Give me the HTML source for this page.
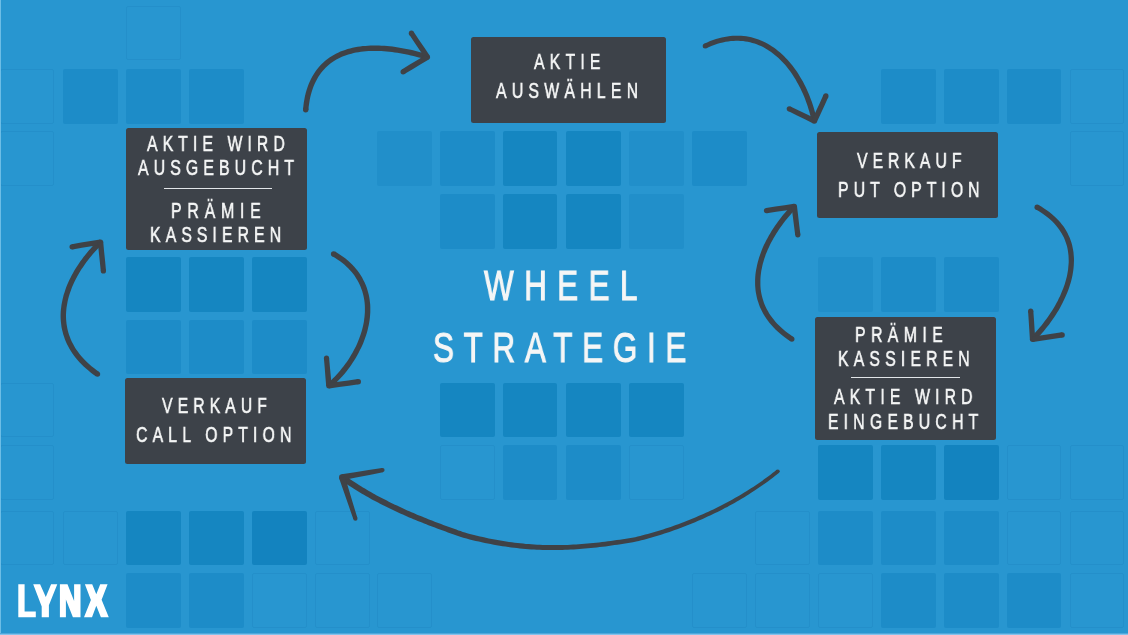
<!DOCTYPE html>
<html><head><meta charset="utf-8"><style>
html,body{margin:0;padding:0;}
body{width:1128px;height:635px;overflow:hidden;position:relative;background:#2896d0;font-family:"Liberation Sans",sans-serif;}
.sq{position:absolute;width:54.8px;height:54.6px;border-radius:2px;box-sizing:border-box;}
.sq.o{border:1px solid rgba(20,110,170,0.17);}
.box{position:absolute;background:#3d4249;border-radius:2.5px;}
.t{position:absolute;white-space:nowrap;color:#f5f6f6;line-height:1;transform-origin:0 0;-webkit-text-stroke:0.6px #f5f6f6;will-change:transform;}
.s{font-size:22px;transform:scaleX(0.72);}
.b{font-size:42px;transform:scaleX(0.75);-webkit-text-stroke:1.1px #f5f6f6;}
.dv{position:absolute;height:1.4px;background:#e2e5e8;}
.edge-l{position:absolute;left:0;top:0;width:1px;height:635px;background:#6cbde6;}
.edge-b{position:absolute;left:0;top:633px;width:1128px;height:2px;background:linear-gradient(#4ea8db 0 50%,#84c2ec 50%);}
svg{position:absolute;left:0;top:0;}
</style></head><body>
<div class="sq o" style="left:126.1px;top:5.6px"></div><div class="sq o" style="left:-0.5px;top:69.0px"></div><div class="sq" style="left:62.8px;top:69.0px;background:#1d8cc8"></div><div class="sq" style="left:126.1px;top:69.0px;background:#1d8cc8"></div><div class="sq" style="left:189.1px;top:69.0px;background:#1d8cc8"></div><div class="sq" style="left:880.8px;top:69.0px;background:#1d8cc8"></div><div class="sq" style="left:944.1px;top:69.0px;background:#1d8cc8"></div><div class="sq" style="left:1006.5px;top:69.0px;background:#1d8cc8"></div><div class="sq o" style="left:1069.5px;top:69.0px"></div><div class="sq o" style="left:-0.5px;top:131.2px"></div><div class="sq" style="left:377.4px;top:131.2px;background:#218fca"></div><div class="sq" style="left:440.2px;top:131.2px;background:#1d8cc8"></div><div class="sq" style="left:502.6px;top:131.2px;background:#1586c1"></div><div class="sq" style="left:566.2px;top:131.2px;background:#1586c1"></div><div class="sq" style="left:629.2px;top:131.2px;background:#218fca"></div><div class="sq" style="left:692.0px;top:131.2px;background:#1d8cc8"></div><div class="sq o" style="left:1069.5px;top:131.2px"></div><div class="sq" style="left:440.2px;top:194.0px;background:#1d8cc8"></div><div class="sq" style="left:502.6px;top:194.0px;background:#1586c1"></div><div class="sq" style="left:566.2px;top:194.0px;background:#1586c1"></div><div class="sq" style="left:629.2px;top:194.0px;background:#218fca"></div><div class="sq" style="left:126.1px;top:257.2px;background:#1586c1"></div><div class="sq" style="left:189.1px;top:257.2px;background:#1586c1"></div><div class="sq" style="left:251.8px;top:257.2px;background:#1586c1"></div><div class="sq" style="left:817.8px;top:257.2px;background:#218fca"></div><div class="sq" style="left:880.8px;top:257.2px;background:#1d8cc8"></div><div class="sq" style="left:944.1px;top:257.2px;background:#1d8cc8"></div><div class="sq" style="left:126.1px;top:319.8px;background:#1d8cc8"></div><div class="sq" style="left:189.1px;top:319.8px;background:#1d8cc8"></div><div class="sq" style="left:251.8px;top:319.8px;background:#1d8cc8"></div><div class="sq o" style="left:-0.5px;top:382.6px"></div><div class="sq" style="left:440.2px;top:382.6px;background:#1586c1"></div><div class="sq" style="left:502.6px;top:382.6px;background:#1586c1"></div><div class="sq" style="left:566.2px;top:382.6px;background:#1586c1"></div><div class="sq" style="left:629.2px;top:382.6px;background:#1586c1"></div><div class="sq o" style="left:-0.5px;top:445.2px"></div><div class="sq o" style="left:440.2px;top:445.2px"></div><div class="sq" style="left:502.6px;top:445.2px;background:#1d8cc8"></div><div class="sq" style="left:566.2px;top:445.2px;background:#1d8cc8"></div><div class="sq o" style="left:629.2px;top:445.2px"></div><div class="sq" style="left:817.8px;top:445.2px;background:#1586c1"></div><div class="sq" style="left:880.8px;top:445.2px;background:#1586c1"></div><div class="sq" style="left:944.1px;top:445.2px;background:#1383bf"></div><div class="sq o" style="left:1006.5px;top:445.2px"></div><div class="sq o" style="left:1069.5px;top:445.2px"></div><div class="sq o" style="left:-0.5px;top:510.9px"></div><div class="sq o" style="left:62.8px;top:510.9px"></div><div class="sq" style="left:126.1px;top:510.9px;background:#1586c1"></div><div class="sq" style="left:189.1px;top:510.9px;background:#1586c1"></div><div class="sq" style="left:251.8px;top:510.9px;background:#1383bf"></div><div class="sq o" style="left:314.8px;top:510.9px"></div><div class="sq o" style="left:755.0px;top:510.9px"></div><div class="sq" style="left:817.8px;top:510.9px;background:#1d8cc8"></div><div class="sq" style="left:880.8px;top:510.9px;background:#1d8cc8"></div><div class="sq" style="left:944.1px;top:510.9px;background:#1d8cc8"></div><div class="sq o" style="left:1006.5px;top:510.9px"></div><div class="sq o" style="left:1069.5px;top:510.9px"></div><div class="sq" style="left:126.1px;top:573.2px;background:#1d8cc8"></div><div class="sq" style="left:189.1px;top:573.2px;background:#1d8cc8"></div><div class="sq o" style="left:251.8px;top:573.2px"></div><div class="sq o" style="left:314.8px;top:573.2px"></div><div class="sq o" style="left:377.4px;top:573.2px"></div><div class="sq o" style="left:692.0px;top:573.2px"></div><div class="sq o" style="left:755.0px;top:573.2px"></div><div class="sq o" style="left:817.8px;top:573.2px"></div><div class="sq" style="left:880.8px;top:573.2px;background:#1d8cc8"></div><div class="sq" style="left:944.1px;top:573.2px;background:#1d8cc8"></div><div class="sq" style="left:1006.5px;top:573.2px;background:#1d8cc8"></div><div class="sq o" style="left:1069.5px;top:573.2px"></div>
<div class="edge-l"></div><div class="edge-b"></div>
<div class="box" style="left:470.7px;top:36.8px;width:195.5px;height:86.2px"></div><div class="box" style="left:817.3px;top:132.3px;width:180.6px;height:86px"></div><div class="box" style="left:125.1px;top:378.3px;width:180.9px;height:86.2px"></div><div class="box" style="left:126.3px;top:127.5px;width:180.9px;height:122.6px"></div><div class="box" style="left:815.1px;top:317.1px;width:181.2px;height:122.5px"></div>
<div class="dv" style="left:163.5px;top:187.8px;width:108.5px"></div><div class="dv" style="left:851.4px;top:376.9px;width:108.8px"></div>
<div class="t s" style="left:533.70px;top:51.30px;letter-spacing:7.172px">AKTIE</div><div class="t s" style="left:496.00px;top:80.40px;letter-spacing:7.241px">AUSWÄHLEN</div><div class="t s" style="left:856.70px;top:149.70px;letter-spacing:6.864px">VERKAUF</div><div class="t s" style="left:838.00px;top:179.00px;letter-spacing:6.953px">PUT OPTION</div><div class="t s" style="left:161.50px;top:394.60px;letter-spacing:6.977px">VERKAUF</div><div class="t s" style="left:136.20px;top:424.20px;letter-spacing:7.125px">CALL OPTION</div><div class="t s" style="left:146.50px;top:132.90px;letter-spacing:7.000px">AKTIE WIRD</div><div class="t s" style="left:137.80px;top:157.40px;letter-spacing:7.108px">AUSGEBUCHT</div><div class="t s" style="left:171.00px;top:199.60px;letter-spacing:8.056px">PRÄMIE</div><div class="t s" style="left:150.00px;top:223.80px;letter-spacing:7.018px">KASSIEREN</div><div class="t s" style="left:854.60px;top:323.80px;letter-spacing:7.528px">PRÄMIE</div><div class="t s" style="left:837.60px;top:348.20px;letter-spacing:7.123px">KASSIEREN</div><div class="t s" style="left:833.70px;top:386.00px;letter-spacing:7.123px">AKTIE WIRD</div><div class="t s" style="left:828.40px;top:410.50px;letter-spacing:7.156px">EINGEBUCHT</div><div class="t b" style="left:483.50px;top:265.00px;letter-spacing:13.800px">WHEEL</div><div class="t b" style="left:432.50px;top:327.40px;letter-spacing:12.850px">STRATEGIE</div>
<svg width="1128" height="635" viewBox="0 0 1128 635" fill="#3f4247" stroke="none"><polygon points="308.4,110.0 308.7,106.5 309.2,103.3 309.7,100.1 310.3,97.1 311.0,94.2 311.8,91.4 312.7,88.8 313.6,86.2 314.7,83.7 315.8,81.4 317.0,79.2 318.2,77.0 319.6,75.0 321.0,73.0 322.4,71.2 324.0,69.4 325.6,67.8 327.2,66.2 328.9,64.7 330.7,63.3 332.5,62.0 334.4,60.8 336.4,59.6 338.4,58.5 340.4,57.6 342.5,56.6 344.7,55.8 346.8,55.0 349.1,54.3 351.4,53.7 353.7,53.1 356.0,52.6 358.4,52.2 360.9,51.8 363.3,51.5 365.8,51.3 368.4,51.1 370.9,51.0 373.5,50.9 376.1,50.9 378.7,51.0 381.3,51.1 384.0,51.2 386.6,51.4 389.3,51.7 392.0,52.0 394.7,52.4 397.4,52.8 400.1,53.2 402.7,53.7 405.4,54.2 408.1,54.8 410.8,55.4 413.5,56.0 416.1,56.7 418.8,57.4 421.4,58.1 424.0,58.9 426.6,59.7 428.2,54.5 425.6,53.7 422.9,52.9 420.2,52.2 417.5,51.5 414.8,50.8 412.0,50.1 409.3,49.5 406.5,48.9 403.7,48.4 401.0,47.9 398.2,47.4 395.4,47.0 392.6,46.6 389.9,46.3 387.1,46.1 384.4,45.8 381.6,45.7 378.9,45.6 376.1,45.5 373.4,45.5 370.7,45.6 368.0,45.7 365.4,45.9 362.8,46.1 360.1,46.5 357.6,46.8 355.0,47.3 352.5,47.8 350.0,48.4 347.5,49.1 345.1,49.9 342.8,50.7 340.4,51.6 338.1,52.7 335.9,53.7 333.7,54.9 331.6,56.2 329.5,57.6 327.5,59.0 325.5,60.6 323.6,62.2 321.7,64.0 320.0,65.8 318.3,67.7 316.7,69.8 315.1,71.9 313.7,74.2 312.3,76.5 311.0,79.0 309.8,81.5 308.6,84.2 307.6,87.0 306.6,89.9 305.8,92.8 305.0,95.9 304.4,99.2 303.8,102.5 303.4,105.9 303.0,109.4"/><circle cx="305.7" cy="109.7" r="2.70"/><circle cx="427.4" cy="57.1" r="2.70"/><polygon points="429.6,55.6 424.3,47.6 418.9,39.7 413.6,31.8 409.2,34.6 414.5,42.6 419.9,50.6 425.2,58.6"/><circle cx="411.4" cy="33.2" r="2.60"/><polygon points="426.0,54.8 417.9,59.7 409.8,64.6 401.8,69.6 404.4,74.0 412.6,69.2 420.7,64.3 428.8,59.4"/><circle cx="403.1" cy="71.8" r="2.60"/><polygon points="706.2,48.3 709.1,47.0 712.0,45.8 714.8,44.8 717.5,43.8 720.2,43.1 722.9,42.4 725.6,41.8 728.2,41.4 730.8,41.1 733.3,40.9 735.8,40.8 738.3,40.8 740.7,40.9 743.1,41.1 745.5,41.4 747.8,41.8 750.1,42.3 752.3,42.9 754.6,43.6 756.7,44.3 758.9,45.2 761.0,46.1 763.1,47.1 765.1,48.2 767.2,49.4 769.1,50.7 771.1,52.0 773.0,53.4 774.8,54.9 776.7,56.4 778.5,58.1 780.2,59.7 781.9,61.5 783.6,63.3 785.3,65.1 786.9,67.1 788.4,69.0 790.0,71.0 791.4,73.1 792.9,75.2 794.3,77.4 795.6,79.6 796.9,81.9 798.2,84.2 799.4,86.5 800.6,88.8 801.7,91.2 802.8,93.6 803.9,96.1 804.9,98.6 805.8,101.1 806.7,103.6 807.6,106.1 808.4,108.7 809.2,111.2 809.9,113.8 810.6,116.4 811.2,119.0 811.8,121.6 817.0,120.4 816.4,117.7 815.8,115.1 815.1,112.4 814.3,109.7 813.5,107.1 812.7,104.4 811.8,101.8 810.8,99.2 809.8,96.6 808.8,94.0 807.7,91.5 806.6,89.0 805.4,86.5 804.1,84.1 802.9,81.6 801.5,79.2 800.1,76.9 798.7,74.6 797.3,72.3 795.7,70.1 794.2,67.9 792.6,65.8 790.9,63.7 789.2,61.7 787.5,59.8 785.7,57.9 783.9,56.0 782.0,54.2 780.1,52.5 778.1,50.9 776.1,49.3 774.1,47.8 772.0,46.4 769.8,45.0 767.7,43.7 765.4,42.6 763.2,41.4 760.9,40.4 758.5,39.5 756.1,38.7 753.7,37.9 751.3,37.3 748.8,36.8 746.2,36.3 743.6,36.0 741.0,35.8 738.4,35.7 735.7,35.7 733.0,35.8 730.2,36.0 727.4,36.4 724.6,36.9 721.8,37.5 718.9,38.2 716.0,39.0 713.1,40.0 710.1,41.1 707.1,42.4 704.2,43.7"/><circle cx="705.2" cy="46.0" r="2.50"/><circle cx="814.4" cy="121.0" r="2.70"/><polygon points="815.6,118.6 807.2,114.5 798.8,110.5 790.4,106.5 788.2,111.1 796.5,115.2 804.9,119.3 813.2,123.4"/><circle cx="789.3" cy="108.8" r="2.60"/><polygon points="816.9,122.1 820.7,113.7 824.5,105.4 828.3,97.0 823.5,94.8 819.7,103.2 815.8,111.5 811.9,119.9"/><circle cx="825.9" cy="95.9" r="2.60"/><polygon points="1035.8,209.5 1038.6,211.1 1041.3,212.7 1043.8,214.4 1046.1,216.2 1048.4,217.9 1050.5,219.8 1052.4,221.6 1054.3,223.5 1056.0,225.4 1057.6,227.4 1059.1,229.4 1060.4,231.4 1061.7,233.5 1062.8,235.5 1063.9,237.6 1064.8,239.8 1065.6,241.9 1066.3,244.1 1067.0,246.3 1067.5,248.6 1067.9,250.8 1068.2,253.1 1068.5,255.4 1068.6,257.7 1068.7,260.0 1068.7,262.4 1068.5,264.7 1068.3,267.1 1068.1,269.5 1067.7,271.9 1067.3,274.3 1066.8,276.7 1066.2,279.1 1065.5,281.5 1064.8,283.9 1064.0,286.3 1063.1,288.7 1062.1,291.1 1061.1,293.5 1060.1,295.9 1058.9,298.3 1057.8,300.7 1056.5,303.0 1055.2,305.4 1053.9,307.7 1052.5,310.0 1051.0,312.3 1049.5,314.5 1048.0,316.7 1046.4,319.0 1044.8,321.1 1043.2,323.3 1041.5,325.4 1039.7,327.5 1038.0,329.6 1036.2,331.6 1034.4,333.6 1032.5,335.5 1030.7,337.4 1034.5,341.2 1036.4,339.2 1038.3,337.2 1040.2,335.2 1042.1,333.1 1043.9,331.0 1045.6,328.8 1047.4,326.6 1049.1,324.4 1050.8,322.1 1052.4,319.8 1054.0,317.5 1055.5,315.2 1057.0,312.8 1058.5,310.4 1059.9,308.0 1061.2,305.6 1062.5,303.1 1063.7,300.6 1064.9,298.1 1066.0,295.6 1067.1,293.1 1068.1,290.6 1069.0,288.1 1069.8,285.5 1070.6,283.0 1071.3,280.4 1071.9,277.9 1072.5,275.3 1072.9,272.8 1073.3,270.2 1073.6,267.6 1073.8,265.1 1073.9,262.5 1074.0,260.0 1073.9,257.5 1073.7,254.9 1073.5,252.4 1073.1,250.0 1072.6,247.5 1072.1,245.0 1071.4,242.6 1070.6,240.2 1069.7,237.8 1068.6,235.4 1067.5,233.1 1066.2,230.8 1064.9,228.6 1063.4,226.3 1061.7,224.2 1060.0,222.0 1058.1,219.9 1056.1,217.9 1054.0,215.9 1051.7,213.9 1049.3,212.0 1046.8,210.2 1044.1,208.4 1041.3,206.6 1038.4,204.9"/><circle cx="1037.1" cy="207.2" r="2.60"/><circle cx="1032.6" cy="339.3" r="2.70"/><polygon points="1035.3,339.1 1034.6,329.7 1034.0,320.3 1033.3,310.8 1028.1,311.2 1028.7,320.6 1029.3,330.0 1029.9,339.5"/><circle cx="1030.7" cy="311.0" r="2.60"/><polygon points="1033.0,342.0 1042.9,340.5 1052.7,339.0 1062.6,337.5 1061.8,332.3 1051.9,333.8 1042.1,335.2 1032.2,336.6"/><circle cx="1062.2" cy="334.9" r="2.60"/><polygon points="793.3,336.9 790.6,335.1 788.1,333.3 785.7,331.4 783.4,329.5 781.2,327.6 779.1,325.6 777.2,323.7 775.4,321.7 773.7,319.6 772.1,317.6 770.6,315.5 769.2,313.4 768.0,311.3 766.8,309.2 765.7,307.0 764.8,304.9 763.9,302.7 763.2,300.5 762.5,298.3 761.9,296.0 761.4,293.8 761.0,291.5 760.7,289.3 760.5,287.0 760.4,284.7 760.4,282.4 760.4,280.1 760.5,277.7 760.7,275.4 761.0,273.1 761.3,270.7 761.8,268.4 762.3,266.1 762.8,263.7 763.5,261.4 764.2,259.0 765.0,256.7 765.8,254.3 766.8,252.0 767.7,249.7 768.8,247.4 769.9,245.1 771.0,242.8 772.3,240.5 773.5,238.2 774.9,235.9 776.2,233.7 777.7,231.5 779.1,229.2 780.7,227.1 782.2,224.9 783.8,222.7 785.5,220.6 787.2,218.5 788.9,216.4 790.7,214.4 792.5,212.3 794.4,210.3 796.3,208.4 792.3,204.6 790.4,206.7 788.5,208.7 786.7,210.8 784.8,212.9 783.0,215.1 781.3,217.3 779.6,219.5 777.9,221.7 776.3,223.9 774.7,226.2 773.2,228.5 771.7,230.8 770.3,233.2 768.9,235.5 767.6,237.9 766.3,240.3 765.1,242.7 763.9,245.1 762.8,247.6 761.8,250.0 760.9,252.5 760.0,254.9 759.1,257.4 758.4,259.9 757.7,262.4 757.1,264.9 756.6,267.4 756.1,269.9 755.7,272.4 755.4,274.9 755.2,277.4 755.1,279.9 755.1,282.4 755.1,284.9 755.3,287.4 755.5,289.9 755.8,292.3 756.3,294.8 756.8,297.2 757.4,299.7 758.2,302.1 759.0,304.5 759.9,306.9 761.0,309.2 762.1,311.6 763.4,313.9 764.8,316.2 766.3,318.5 767.9,320.7 769.6,322.9 771.4,325.1 773.4,327.3 775.5,329.4 777.7,331.4 780.0,333.5 782.4,335.5 785.0,337.5 787.7,339.4 790.5,341.3"/><circle cx="791.9" cy="339.1" r="2.60"/><circle cx="794.3" cy="206.5" r="2.70"/><polygon points="793.9,203.8 784.6,205.2 775.4,206.6 766.1,208.0 766.9,213.2 776.2,211.8 785.4,210.5 794.7,209.2"/><circle cx="766.5" cy="210.6" r="2.60"/><polygon points="791.6,206.8 792.8,216.3 794.0,225.7 795.2,235.1 800.4,234.5 799.2,225.0 798.1,215.6 797.0,206.2"/><circle cx="797.8" cy="234.8" r="2.60"/><polygon points="776.6,469.8 774.6,471.5 772.5,473.1 770.5,474.7 768.4,476.2 766.3,477.8 764.1,479.3 762.0,480.9 759.8,482.4 757.6,483.9 755.4,485.4 753.2,486.9 751.0,488.3 748.7,489.8 746.4,491.2 744.2,492.6 741.9,494.0 739.5,495.4 737.2,496.7 734.9,498.1 732.5,499.4 730.2,500.7 727.8,502.0 725.4,503.3 723.0,504.5 720.6,505.8 718.1,507.0 715.7,508.2 713.3,509.4 710.8,510.5 708.4,511.7 705.9,512.8 703.4,514.0 700.9,515.1 698.4,516.1 695.9,517.2 693.4,518.3 690.9,519.3 688.4,520.3 685.9,521.3 683.4,522.3 680.8,523.2 678.3,524.2 675.8,525.1 673.2,526.0 670.7,526.9 668.1,527.7 665.6,528.6 663.1,529.4 660.5,530.2 658.0,531.0 655.4,531.8 652.9,532.5 650.3,533.2 647.8,533.9 645.3,534.6 642.7,535.3 640.2,535.9 637.7,536.6 635.2,537.2 632.2,537.7 629.1,538.2 626.0,538.7 622.9,539.2 619.9,539.7 616.8,540.1 613.8,540.5 610.8,540.9 607.9,541.3 604.9,541.7 602.0,542.1 599.0,542.4 596.1,542.7 593.2,543.0 590.4,543.3 587.5,543.6 584.6,543.8 581.8,544.1 578.9,544.3 576.1,544.4 573.3,544.6 570.5,544.7 567.7,544.9 564.9,545.0 562.1,545.0 559.3,545.1 556.5,545.1 553.7,545.1 550.9,545.1 548.2,545.1 545.4,545.0 542.6,544.9 539.8,544.8 537.1,544.7 534.3,544.5 531.5,544.3 528.7,544.1 525.9,543.9 523.1,543.6 520.3,543.3 517.5,543.0 514.7,542.7 511.8,542.3 509.0,541.9 506.2,541.5 503.3,541.1 500.4,540.6 497.6,540.1 494.7,539.6 491.7,539.0 488.8,538.4 485.9,537.8 482.9,537.1 480.0,536.5 477.0,535.8 474.0,535.0 470.9,534.2 467.9,533.4 464.9,532.6 462.8,531.9 460.6,531.1 458.4,530.4 456.3,529.6 454.1,528.8 451.9,528.1 449.8,527.3 447.6,526.5 445.4,525.7 443.3,524.9 441.1,524.1 439.0,523.3 436.8,522.5 434.7,521.7 432.6,520.8 430.4,520.0 428.3,519.2 426.2,518.3 424.1,517.5 422.0,516.6 419.9,515.7 417.7,514.9 415.6,514.0 413.6,513.1 411.5,512.2 409.4,511.3 407.3,510.4 405.2,509.4 403.2,508.5 401.1,507.6 399.0,506.6 397.0,505.6 394.9,504.7 392.9,503.7 390.8,502.7 388.8,501.7 386.8,500.6 384.8,499.6 382.7,498.6 380.7,497.5 378.7,496.4 376.7,495.4 374.7,494.3 372.8,493.2 370.8,492.0 368.8,490.9 366.8,489.8 364.9,488.6 362.9,487.4 361.0,486.2 359.0,485.0 357.1,483.8 355.2,482.6 353.2,481.3 351.3,480.1 349.4,478.8 347.5,477.5 345.6,476.2 343.7,474.8 340.3,479.8 342.2,481.1 344.1,482.4 346.1,483.7 348.0,485.0 350.0,486.3 352.0,487.6 353.9,488.8 355.9,490.1 357.9,491.3 359.9,492.5 361.9,493.7 363.9,494.8 365.9,496.0 367.9,497.1 369.9,498.3 371.9,499.4 374.0,500.5 376.0,501.6 378.0,502.6 380.1,503.7 382.1,504.8 384.2,505.8 386.3,506.8 388.3,507.8 390.4,508.8 392.5,509.8 394.5,510.8 396.6,511.8 398.7,512.7 400.8,513.7 402.9,514.6 405.0,515.5 407.1,516.5 409.2,517.4 411.4,518.3 413.5,519.2 415.6,520.0 417.7,520.9 419.9,521.8 422.0,522.6 424.1,523.5 426.3,524.3 428.4,525.2 430.6,526.0 432.7,526.8 434.9,527.6 437.1,528.4 439.2,529.2 441.4,530.0 443.6,530.8 445.7,531.6 447.9,532.4 450.1,533.2 452.3,533.9 454.5,534.7 456.6,535.5 458.8,536.2 461.0,537.0 463.3,537.8 466.5,538.6 469.6,539.4 472.7,540.2 475.7,540.9 478.8,541.6 481.8,542.3 484.8,542.9 487.8,543.5 490.7,544.1 493.7,544.7 496.6,545.2 499.6,545.7 502.5,546.2 505.4,546.6 508.3,547.0 511.2,547.4 514.1,547.8 516.9,548.1 519.8,548.4 522.6,548.7 525.5,548.9 528.3,549.2 531.2,549.4 534.0,549.5 536.8,549.7 539.6,549.8 542.5,549.9 545.3,550.0 548.1,550.0 550.9,550.1 553.7,550.1 556.6,550.0 559.4,550.0 562.2,549.9 565.0,549.8 567.9,549.7 570.7,549.6 573.6,549.4 576.4,549.3 579.3,549.1 582.1,548.8 585.0,548.6 587.9,548.3 590.8,548.1 593.7,547.8 596.7,547.4 599.6,547.1 602.5,546.7 605.5,546.4 608.5,546.0 611.5,545.6 614.5,545.1 617.5,544.7 620.6,544.2 623.6,543.7 626.7,543.2 629.8,542.7 632.9,542.2 636.2,541.6 638.8,541.0 641.3,540.3 643.9,539.7 646.5,539.0 649.0,538.3 651.6,537.5 654.1,536.8 656.7,536.0 659.3,535.2 661.8,534.4 664.4,533.6 667.0,532.7 669.5,531.9 672.1,531.0 674.7,530.1 677.2,529.2 679.8,528.2 682.3,527.3 684.9,526.3 687.4,525.3 690.0,524.3 692.5,523.2 695.1,522.2 697.6,521.1 700.1,520.0 702.6,518.9 705.1,517.8 707.6,516.6 710.1,515.5 712.6,514.3 715.1,513.1 717.5,511.9 720.0,510.7 722.4,509.4 724.9,508.1 727.3,506.9 729.7,505.6 732.1,504.2 734.5,502.9 736.9,501.6 739.2,500.2 741.6,498.8 743.9,497.4 746.2,496.0 748.6,494.5 750.8,493.1 753.1,491.6 755.4,490.1 757.6,488.6 759.8,487.1 762.0,485.6 764.2,484.0 766.4,482.5 768.5,480.9 770.7,479.3 772.8,477.7 774.9,476.1 776.9,474.4 779.0,472.8"/><circle cx="777.8" cy="471.3" r="1.90"/><circle cx="342.0" cy="477.3" r="3.00"/><polygon points="342.5,480.3 356.0,477.6 369.4,474.9 382.9,472.2 382.1,468.0 368.6,470.1 355.0,472.2 341.5,474.3"/><circle cx="382.5" cy="470.1" r="2.10"/><polygon points="339.1,478.2 343.9,491.9 348.6,505.6 353.4,519.3 357.4,518.1 353.2,504.2 349.0,490.3 344.9,476.4"/><circle cx="355.4" cy="518.7" r="2.10"/><polygon points="99.1,371.9 96.4,370.0 93.9,368.1 91.5,366.2 89.3,364.2 87.1,362.3 85.1,360.3 83.2,358.3 81.4,356.2 79.7,354.2 78.1,352.1 76.6,350.0 75.2,347.9 74.0,345.8 72.8,343.6 71.7,341.5 70.7,339.3 69.9,337.1 69.1,334.9 68.4,332.7 67.8,330.5 67.3,328.3 66.9,326.0 66.5,323.8 66.3,321.5 66.1,319.2 66.0,317.0 66.0,314.7 66.1,312.4 66.3,310.1 66.5,307.8 66.9,305.5 67.3,303.2 67.7,300.9 68.3,298.6 68.9,296.3 69.6,294.0 70.4,291.7 71.2,289.4 72.1,287.1 73.1,284.8 74.1,282.6 75.2,280.3 76.4,278.0 77.6,275.8 78.9,273.5 80.2,271.3 81.6,269.1 83.1,266.9 84.6,264.7 86.1,262.6 87.7,260.4 89.4,258.3 91.1,256.2 92.9,254.1 94.7,252.0 96.6,250.0 98.5,248.0 100.4,246.0 102.4,244.0 98.6,240.2 96.6,242.2 94.6,244.2 92.6,246.3 90.7,248.4 88.8,250.6 87.0,252.7 85.2,254.9 83.5,257.1 81.8,259.4 80.2,261.6 78.6,263.9 77.1,266.2 75.6,268.5 74.2,270.8 72.9,273.2 71.6,275.5 70.4,277.9 69.2,280.3 68.1,282.7 67.1,285.1 66.1,287.5 65.3,289.9 64.5,292.4 63.7,294.8 63.1,297.3 62.5,299.7 62.0,302.2 61.5,304.7 61.2,307.2 60.9,309.6 60.7,312.1 60.6,314.6 60.6,317.1 60.7,319.5 60.9,322.0 61.2,324.5 61.5,326.9 62.0,329.4 62.6,331.8 63.2,334.2 64.0,336.6 64.8,339.0 65.8,341.4 66.8,343.8 68.0,346.1 69.3,348.4 70.7,350.7 72.1,353.0 73.7,355.3 75.4,357.5 77.3,359.7 79.2,361.9 81.2,364.1 83.4,366.2 85.7,368.3 88.1,370.3 90.6,372.4 93.2,374.4 95.9,376.3"/><circle cx="97.5" cy="374.1" r="2.70"/><circle cx="100.5" cy="242.1" r="2.70"/><polygon points="100.1,239.4 90.6,241.0 81.1,242.6 71.7,244.2 72.5,249.4 82.0,247.8 91.5,246.3 100.9,244.8"/><circle cx="72.1" cy="246.8" r="2.60"/><polygon points="97.8,242.4 98.8,252.0 99.8,261.6 100.8,271.3 106.0,270.7 105.1,261.1 104.1,251.5 103.2,241.8"/><circle cx="103.4" cy="271.0" r="2.60"/><polygon points="332.2,256.2 334.9,257.8 337.4,259.4 339.8,261.1 342.1,262.8 344.3,264.6 346.3,266.4 348.2,268.3 350.0,270.2 351.7,272.1 353.3,274.1 354.8,276.1 356.1,278.2 357.4,280.2 358.5,282.3 359.6,284.5 360.6,286.7 361.4,288.9 362.2,291.1 362.8,293.3 363.4,295.6 363.9,297.9 364.3,300.2 364.6,302.6 364.8,304.9 364.9,307.3 364.9,309.7 364.9,312.1 364.7,314.5 364.5,316.9 364.2,319.3 363.9,321.7 363.4,324.2 362.9,326.6 362.3,329.0 361.6,331.5 360.8,333.9 360.0,336.3 359.1,338.7 358.2,341.1 357.2,343.5 356.1,345.9 354.9,348.2 353.7,350.5 352.4,352.9 351.1,355.1 349.7,357.4 348.3,359.7 346.8,361.9 345.2,364.0 343.6,366.2 341.9,368.3 340.2,370.4 338.5,372.4 336.7,374.4 334.9,376.4 333.0,378.3 331.1,380.2 329.1,382.0 327.1,383.8 330.7,387.8 332.8,386.0 334.8,384.1 336.8,382.1 338.8,380.1 340.7,378.1 342.6,376.0 344.4,373.9 346.2,371.7 347.9,369.5 349.6,367.2 351.2,364.9 352.8,362.6 354.3,360.3 355.7,357.9 357.1,355.5 358.5,353.1 359.7,350.6 360.9,348.2 362.1,345.7 363.2,343.2 364.2,340.6 365.1,338.1 366.0,335.5 366.8,333.0 367.5,330.4 368.1,327.8 368.7,325.2 369.2,322.6 369.6,320.0 369.9,317.4 370.1,314.9 370.3,312.3 370.3,309.7 370.3,307.1 370.2,304.5 369.9,302.0 369.6,299.4 369.2,296.9 368.7,294.4 368.0,291.9 367.3,289.4 366.5,287.0 365.5,284.6 364.5,282.2 363.3,279.9 362.1,277.5 360.7,275.3 359.2,273.0 357.6,270.8 355.9,268.7 354.0,266.5 352.1,264.5 350.0,262.5 347.8,260.5 345.5,258.6 343.0,256.8 340.4,255.0 337.8,253.2 335.0,251.6"/><circle cx="333.6" cy="253.9" r="2.70"/><circle cx="328.9" cy="385.8" r="2.70"/><polygon points="331.6,385.6 330.8,376.3 329.9,367.1 329.1,357.9 323.9,358.3 324.7,367.6 325.4,376.8 326.2,386.0"/><circle cx="326.5" cy="358.1" r="2.60"/><polygon points="329.3,388.5 339.1,387.1 348.9,385.7 358.8,384.3 358.0,379.1 348.2,380.5 338.4,381.8 328.5,383.1"/><circle cx="358.4" cy="381.7" r="2.60"/></svg>
<svg width="1128" height="635" viewBox="0 0 1128 635"><g fill="#ffffff">
<polygon points="18.3,584.3 24.6,584.3 24.6,611.6 35.8,611.6 35.8,617.3 18.3,617.3"/>
<polygon points="33.2,584.3 40.1,584.3 45.8,597 51.1,584.3 57.3,584.3 48.9,605.2 48.9,617.3 41.7,617.3 41.7,606.5"/>
<polygon points="59.9,584.3 67.5,584.3 74.1,601 74.1,584.3 80.5,584.3 80.5,617.3 72.9,617.3 65.9,599.5 65.9,617.3 59.9,617.3"/>
<polygon points="84.9,584.3 92.2,584.3 96.3,594.2 100.2,584.3 107.6,584.3 101.6,599.8 108.8,617.3 100.9,617.3 96.3,605.8 92,617.3 84,617.3 90.9,600.1"/>
</g></svg>

</body></html>
